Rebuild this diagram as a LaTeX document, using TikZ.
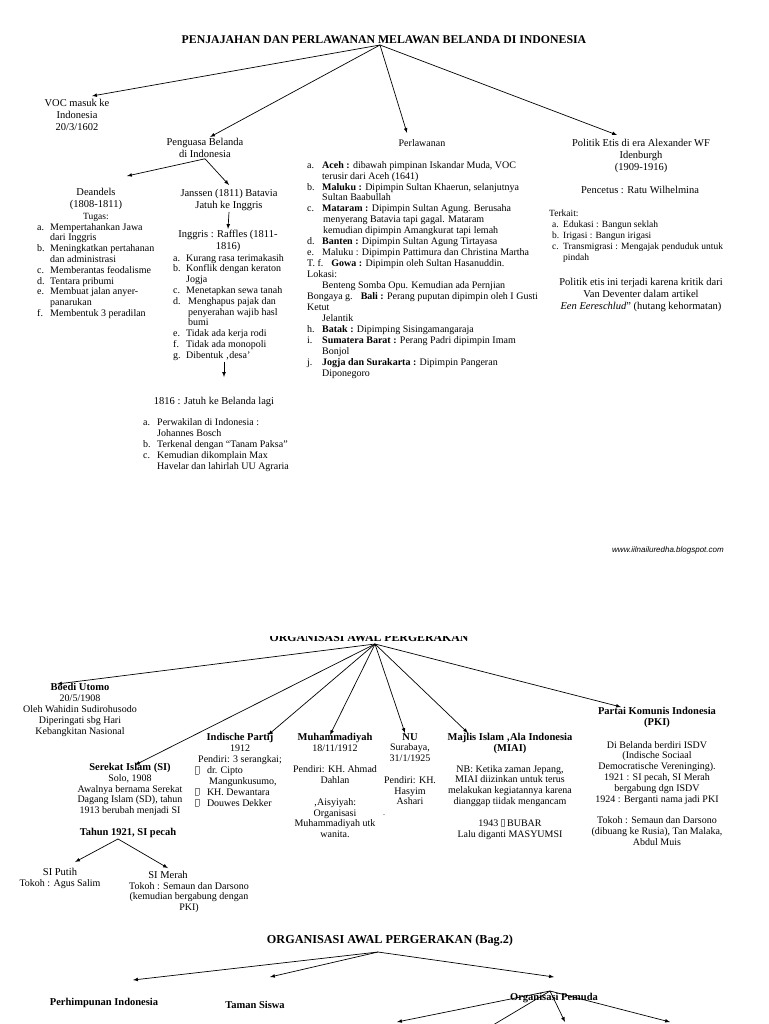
\documentclass[tikz,border=0pt]{standalone}
\usepackage{fontspec}
\setmainfont{Liberation Serif}
\newfontfamily\webfont{Liberation Sans}
\usepackage{tikz}
\usetikzlibrary{arrows}

\newcommand{\butir}[2][13pt]{\makebox[#1][l]{#2}}
\newcommand{\lanjut}[1][13pt]{\hspace*{#1}}
\newcommand{\kotak}{{\color{gray}\fboxsep0pt\fboxrule0.4pt\fbox{\rule{0pt}{7pt}\hspace{3pt}}}}

\tikzset{
  judul/.style={inner sep=1pt, font=\fontsize{11.8}{13}\selectfont\bfseries},
  kepala/.style={anchor=north, align=center, inner sep=1pt, font=\fontsize{10.5}{12}\selectfont},
  isi/.style={anchor=north, align=center, inner sep=1pt, font=\fontsize{10}{10.8}\selectfont},
  daftar/.style={anchor=north west, align=left, inner sep=1pt, font=\fontsize{10}{10.8}\selectfont},
  tebal/.style={inner sep=1pt, font=\fontsize{10.5}{12}\selectfont\bfseries},
  panah/.style={-latex, line width=0.7pt},
}

\begin{document}
\begin{tikzpicture}[x=1pt,y=-1pt]
\clip (0,0) rectangle (768,1024);

\node[judul] (judul1) at (384,40) {PENJAJAHAN DAN PERLAWANAN MELAWAN BELANDA DI INDONESIA};
\coordinate (J1) at (380,45);

\node[kepala] (voc) at (77,98) {VOC masuk ke\\Indonesia\\20/3/1602};
\node[kepala] (penguasa) at (205,137) {Penguasa Belanda\\di Indonesia};
\node[kepala] (deandels) at (96,187) {Deandels\\(1808-1811)\\{\fontsize{9.5}{10}\selectfont Tugas:}};
\node[daftar] (tugas) at (36,222) {\butir{a.}Mempertahankan Jawa\\\lanjut dari Inggris\\\butir{b.}Meningkatkan pertahanan\\\lanjut dan administrasi\\\butir{c.}Memberantas feodalisme\\\butir{d.}Tentara pribumi\\\butir{e.}Membuat jalan anyer-\\\lanjut panarukan\\\butir{f.}Membentuk 3 peradilan};
\node[kepala] (janssen) at (229,188) {Janssen (1811) Batavia\\Jatuh ke Inggris};
\node[kepala] (raffles) at (228,229) {Inggris : Raffles (1811-\\1816)};
\node[daftar] (raflist) at (172,253) {\butir{a.}Kurang rasa terimakasih\\\butir{b.}Konflik dengan keraton\\\lanjut Jogja\\\butir{c.}Menetapkan sewa tanah\\\butir[15pt]{d.}Menghapus pajak dan\\\lanjut[15pt]penyerahan wajib hasl\\\lanjut[15pt]bumi\\\butir{e.}Tidak ada kerja rodi\\\butir{f.}Tidak ada monopoli\\\butir{g.}Dibentuk ‚desa’};
\coordinate (ujung) at (224,377);
\node[kepala] (belanda) at (214,396) {1816 : Jatuh ke Belanda lagi};
\node[daftar, font=\fontsize{10}{11.2}\selectfont] (bosch) at (142,417) {\butir[14pt]{a.}Perwakilan di Indonesia :\\\lanjut[14pt]Johannes Bosch\\\butir[14pt]{b.}Terkenal dengan “Tanam Paksa”\\\butir[14pt]{c.}Kemudian dikomplain Max\\\lanjut[14pt]Havelar dan lahirlah UU Agraria};

\node[kepala, font=\fontsize{10}{12}\selectfont] (lawan) at (422,138) {Perlawanan};
\node[daftar, font=\fontsize{10}{10.95}\selectfont] (lawanlist) at (306,160) {%
\butir[15pt]{a.}\textbf{Aceh :} dibawah pimpinan Iskandar Muda, VOC\\
\lanjut[15pt]terusir dari Aceh (1641)\\
\butir[15pt]{b.}\textbf{Maluku :} Dipimpin Sultan Khaerun, selanjutnya\\
\lanjut[15pt]Sultan Baabullah\\
\butir[15pt]{c.}\textbf{Mataram :} Dipimpin Sultan Agung. Berusaha\\
\lanjut[16pt]menyerang Batavia tapi gagal. Mataram\\
\lanjut[16pt]kemudian dipimpin Amangkurat tapi lemah\\
\butir[15pt]{d.}\textbf{Banten :} Dipimpin Sultan Agung Tirtayasa\\
\butir[15pt]{e.}Maluku : Dipimpin Pattimura dan Christina Martha\\
T. f.\hspace{8pt}\textbf{Gowa :} Dipimpin oleh Sultan Hasanuddin.\\
Lokasi:\\
\lanjut[15pt]Benteng Somba Opu. Kemudian ada Pernjian\\
Bongaya g.\hspace{8pt}\textbf{Bali :} Perang puputan dipimpin oleh I Gusti\\
Ketut\\
\lanjut[15pt]Jelantik\\
\butir[15pt]{h.}\textbf{Batak :} Dipimping Sisingamangaraja\\
\butir[15pt]{i.}\textbf{Sumatera Barat :} Perang Padri dipimpin Imam\\
\lanjut[15pt]Bonjol\\
\butir[15pt]{j.}\textbf{Jogja dan Surakarta :} Dipimpin Pangeran\\
\lanjut[15pt]Diponegoro};

\node[kepala] (etis) at (641,138) {Politik Etis di era Alexander WF\\Idenburgh\\(1909-1916)};
\node[kepala] (pencetus) at (640,185) {Pencetus : Ratu Wilhelmina};
\node[daftar, font=\fontsize{9.5}{11}\selectfont] (terkait) at (548,209) {Terkait:\\\hspace*{3pt}\butir[11pt]{a.}Edukasi : Bangun seklah\\\hspace*{3pt}\butir[11pt]{b.}Irigasi : Bangun irigasi\\\hspace*{3pt}\butir[11pt]{c.}Transmigrasi : Mengajak penduduk untuk\\\lanjut[14pt]pindah};
\node[kepala] (kritik) at (641,277) {Politik etis ini terjadi karena kritik dari\\Van Deventer dalam artikel\\\textit{Een Eereschlud}” (hutang kehormatan)};

\node[inner sep=0pt, font=\webfont\itshape\fontsize{8}{9}\selectfont] (web) at (668,550) {www.iilnailuredha.blogspot.com};

\draw[panah] (J1) -- ([xshift=15pt,yshift=2pt]voc.north);
\draw[panah] (J1) -- ([xshift=5pt]penguasa.north);
\draw[panah] (J1) -- ([xshift=-15pt,yshift=5pt]lawan.north);
\draw[panah] (J1) -- ([xshift=-24pt,yshift=3pt]etis.north);
\draw[panah] (penguasa.south) -- ([xshift=31pt,yshift=11pt]deandels.north);
\draw[panah] (penguasa.south) -- ([yshift=3pt]janssen.north);
\draw[panah] (janssen.south) -- (raffles.north);
\draw[panah] (raflist.south -| ujung) -- (ujung);

\begin{scope}
\clip (0,636.5) rectangle (768,660);
\node[judul] (judul2) at (369,637.5) {ORGANISASI AWAL PERGERAKAN};
\end{scope}
\coordinate (J2) at (375,644);

\node[isi] (budi) at (80,682) {\textbf{\fontsize{10.5}{11}\selectfont Boedi Utomo}\\20/5/1908\\Oleh Wahidin Sudirohusodo\\[1pt]Diperingati sbg Hari\\Kebangkitan Nasional};
\node[isi] (si) at (130,762) {\textbf{\fontsize{10.5}{11}\selectfont Serekat Islam (SI)}\\Solo, 1908\\Awalnya bernama Serekat\\Dagang Islam (SD), tahun\\1913 berubah menjadi SI};
\node[tebal] (pecah) at (128,833) {Tahun 1921, SI pecah};
\node[isi] (putih) at (60,867) {{\fontsize{10.5}{11}\selectfont SI Putih}\\Tokoh : Agus Salim};
\node[inner sep=1pt, font=\fontsize{10.5}{11}\selectfont] (merah) at (168,875) {SI Merah};
\node[isi] (merahisi) at (189,881) {Tokoh : Semaun dan Darsono\\(kemudian bergabung dengan\\PKI)};
\node[isi] (ip) at (240,732) {\textbf{\fontsize{10.5}{11}\selectfont Indische Partij}\\1912\\Pendiri: 3 serangkai;};
\node[daftar] (iplist) at (194,765) {\kotak\hspace{8pt}dr. Cipto\\\lanjut[14pt]Mangunkusumo,\\\kotak\hspace{8pt}KH. Dewantara\\\kotak\hspace{8pt}Douwes Dekker};
\node[isi] (muh) at (335,732) {\textbf{\fontsize{10.5}{11}\selectfont Muhammadiyah}\\18/11/1912\\[10.8pt]Pendiri: KH. Ahmad\\Dahlan\\[10.8pt]‚Aisyiyah:\\Organisasi\\Muhammadiyah utk\\wanita.};
\node[isi] (nu) at (410,732) {\textbf{\fontsize{10.5}{11}\selectfont NU}\\Surabaya,\\31/1/1925\\[10.8pt]Pendiri: KH.\\Hasyim\\Ashari};
\node[inner sep=0pt, font=\fontsize{8}{9}\selectfont] (titik) at (384,815) {.};
\node[isi] (miai) at (510,732) {\textbf{\fontsize{10.5}{11.5}\selectfont Majlis Islam ‚Ala Indonesia}\\\textbf{\fontsize{10.5}{11.5}\selectfont (MIAI)}\\[10pt]NB: Ketika zaman Jepang,\\MIAI diizinkan untuk terus\\melakukan kegiatannya karena\\dianggap tiidak mengancam\\[11pt]1943 \kotak{} BUBAR\\Lalu diganti MASYUMSI};
\node[isi] (pki) at (657,706) {\textbf{\fontsize{10.5}{11.5}\selectfont Partai Komunis Indonesia}\\\textbf{\fontsize{10.5}{11.5}\selectfont (PKI)}\\[12pt]Di Belanda berdiri ISDV\\(Indische Sociaal\\Democratische Vereninging).\\1921 : SI pecah, SI Merah\\bergabung dgn ISDV\\1924 : Berganti nama jadi PKI\\[10.8pt]Tokoh : Semaun dan Darsono\\(dibuang ke Rusia), Tan Malaka,\\Abdul Muis};

\draw[panah] (J2) -- ([xshift=-23pt,yshift=-2pt]budi.north);
\draw[panah] (J2) -- ([xshift=5pt,yshift=-3pt]si.north);
\draw[panah] (J2) -- ([xshift=28pt,yshift=-3pt]ip.north);
\draw[panah] (J2) -- ([xshift=-5pt,yshift=-3pt]muh.north);
\draw[panah] (J2) -- ([xshift=-5pt,yshift=-1pt]nu.north);
\draw[panah] (J2) -- ([xshift=-42pt,yshift=-1pt]miai.north);
\draw[panah] (J2) -- ([xshift=-36pt,yshift=-1pt]pki.north);
\draw[panah] ([xshift=-10pt]pecah.south) -- ([xshift=15pt,yshift=5pt]putih.north);
\draw[panah] ([xshift=-10pt]pecah.south) -- ([yshift=2pt]merah.north);

\node[judul, font=\fontsize{12.2}{13}\selectfont\bfseries] (judul3) at (390,941) {ORGANISASI AWAL PERGERAKAN (Bag.2)};
\coordinate (J3) at (378,952);
\node[tebal] (perhim) at (104,1003) {Perhimpunan Indonesia};
\node[tebal] (taman) at (255,1005) {Taman Siswa};
\node[tebal] (pemuda) at (554,998) {Organisasi Pemuda};
\coordinate (P1) at (397,1022);
\coordinate (P2) at (478,1034);
\coordinate (P3) at (565,1022);
\coordinate (P4) at (670,1022);

\draw[panah] (J3) -- ([xshift=29pt,yshift=23pt]perhim.center);
\draw[panah] (J3) -- ([xshift=15pt,yshift=28pt]taman.center);
\draw[panah] (J3) -- ([yshift=21pt]pemuda.center);
\foreach \p in {P1,P2,P3,P4}
  \draw[panah] ([xshift=-4pt,yshift=7pt]pemuda.center) -- (\p);
\end{tikzpicture}
\end{document}
